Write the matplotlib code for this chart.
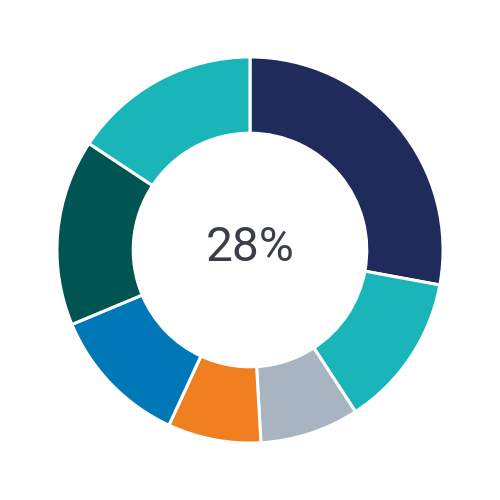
import matplotlib
matplotlib.use("Agg")
import matplotlib.pyplot as plt

# slice shares, clockwise from 12 o'clock
shares = [27.9, 12.9, 8.3, 7.8, 11.8, 15.6, 15.7]
colors = ["#1f2b5b", "#1ab5b8", "#a9b4c2", "#f07f21", "#0078b8", "#005452", "#1ab5b8"]
center_label = "28%"

fig = plt.figure(figsize=(5, 5), dpi=100)
ax = fig.add_axes([0, 0, 1, 1])

ax.pie(shares, colors=colors, startangle=90, counterclock=False,
       radius=1.0,
       wedgeprops=dict(width=0.395, edgecolor="white", linewidth=2.2))

ax.text(0, 0.01, center_label, ha="center", va="center",
        fontsize=34.5, color="#3a3f47", family="Roboto")

ax.set_xlim(-1.295, 1.295)
ax.set_ylim(-1.295, 1.295)
ax.set_aspect("equal")
ax.axis("off")

fig.savefig("out.png", dpi=100, facecolor="white")
